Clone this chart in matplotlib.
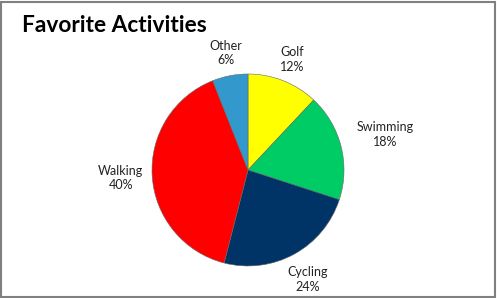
import numpy as np
import matplotlib.pyplot as plt
from matplotlib.patches import Rectangle

# data
activities = ["Golf", "Swimming", "Cycling", "Walking", "Other"]
shares = [12, 18, 24, 40, 6]
colors = ["#FFFF00", "#00CC66", "#003366", "#FF0000", "#3399CC"]
# label distance (in radii) for each slice label
label_dist = [1.24, 1.48, 1.30, 1.33, 1.24]

W, H = 497, 298
fig = plt.figure(figsize=(W / 100, H / 100), dpi=100)
plt.rcParams['font.family'] = ['Lato', 'DejaVu Sans']

# pie centred at (248, 170) px, radius 96 px
cx, cy, r = 248, 170, 96
ax = fig.add_axes([(cx - r) / W, (H - cy - r) / H, 2 * r / W, 2 * r / H])
wedges, _ = ax.pie(shares, colors=colors, startangle=90, counterclock=False,
                   wedgeprops=dict(linewidth=0.4, edgecolor="#666666"))
ax.set_aspect("equal")
ax.set_xlim(-1, 1)
ax.set_ylim(-1, 1)
ax.axis("off")

# category labels placed outside each slice
cum = np.cumsum([0] + shares[:-1])
for i, (name, val) in enumerate(zip(activities, shares)):
    mid = np.deg2rad(90 - (cum[i] + val / 2) / 100 * 360)
    d = label_dist[i]
    ax.text(d * np.cos(mid), d * np.sin(mid), f"{name}\n{val}%",
            ha="center", va="center", fontsize=9, color="#222222",
            linespacing=1.25, clip_on=False)

fig.text(22 / W, 1 - 25 / H, "Favorite Activities", fontsize=16.3,
         fontweight="bold", ha="left", va="center", color="black")

# chart border
fig.patches.append(Rectangle((1 / W, 1 / H), (W - 3) / W, (H - 3) / H,
                             transform=fig.transFigure, fill=False,
                             edgecolor="#808080", linewidth=1.5))

fig.savefig("out.png", dpi=100)
